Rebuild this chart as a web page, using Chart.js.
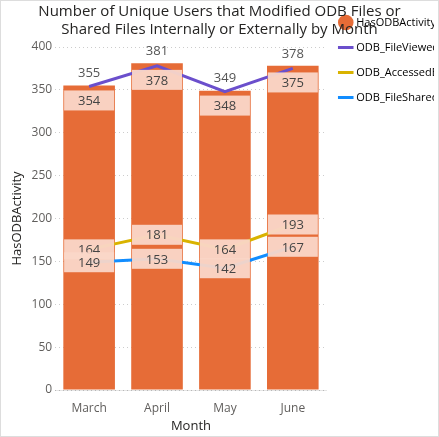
<!DOCTYPE html><html><head><script src="https://cdn.jsdelivr.net/npm/chart.js@4"></script>
<style>body{margin:0;background:#fff}#w{width:439px;height:437px;position:relative;border:1px solid #ddd;box-sizing:border-box}</style></head><body><div id="w"><canvas id="c" width="437" height="435"></canvas></div>
<script>
const months=["March","April","May","June"];
const hasODB=[355,381,349,378];
const fileViewed=[354,378,348,375];
const accessedBy=[164,181,164,193];
const fileShared=[149,153,142,167];
const legendNames=["HasODBActivity","ODB_FileViewed...","ODB_AccessedBy...","ODB_FileSharedIn..."];
const F="'Segoe UI','Open Sans',sans-serif";
const labels={id:'lbl',afterDatasetsDraw(ch){const c=ch.ctx;c.save();c.font="13px "+F;c.textAlign='center';c.textBaseline='middle';
 ch.data.datasets.forEach((ds,i)=>{const m=ch.getDatasetMeta(i);m.data.forEach((p,j)=>{let y=p.y;if(i==0)y-=12;else if(i==1)y+=14;
  if(i==0){c.fillStyle='#555';c.fillText(ds.data[j],p.x,y);return;}
  c.fillStyle='rgba(250,215,200,0.95)';c.fillRect(p.x-25,y-10,50,20);c.fillStyle='#444';c.fillText(ds.data[j],p.x,y+1);});});c.restore();}};
new Chart(document.getElementById('c'),{data:{labels:months,datasets:[
 {type:'bar',label:legendNames[0],data:hasODB,backgroundColor:'#E66C37',categoryPercentage:0.8,barPercentage:0.95,order:4},
 {type:'line',label:legendNames[1],data:fileViewed,borderColor:'#6B4FCC',borderWidth:3,pointRadius:0,order:1},
 {type:'line',label:legendNames[2],data:accessedBy,borderColor:'#D9B300',borderWidth:3,pointRadius:0,order:2},
 {type:'line',label:legendNames[3],data:fileShared,borderColor:'#118DFF',borderWidth:3,pointRadius:0,order:3}]},
 options:{responsive:false,animation:false,layout:{padding:{left:4,right:4,top:2,bottom:2}},
 plugins:{title:{display:true,text:["Number of Unique Users that Modified ODB Files or","Shared Files Internally or Externally by Month"],font:{family:F,size:15,weight:'normal'},color:'#252423',padding:{bottom:8}},
  legend:{position:'right',align:'start',labels:{font:{family:F,size:11},color:'#605E5C',usePointStyle:true,boxWidth:10,padding:14,
   generateLabels(ch){return ch.data.datasets.map((d,i)=>({text:d.label,fillStyle:d.type=='bar'?d.backgroundColor:d.borderColor,strokeStyle:d.type=='bar'?d.backgroundColor:d.borderColor,lineWidth:i?3:0,pointStyle:i?'line':'circle',datasetIndex:i}));}}},tooltip:{enabled:false}},
 scales:{x:{grid:{display:false},ticks:{font:{family:F,size:12},color:'#605E5C'},title:{display:true,text:'Month',font:{family:F,size:13},color:'#252423',padding:0}},
  y:{min:0,max:400,ticks:{stepSize:50,font:{family:F,size:12},color:'#605E5C'},grid:{color:'#ccc',drawTicks:false},border:{display:false,dash:[1,3]},title:{display:true,text:'HasODBActivity',font:{family:F,size:13},color:'#252423'}}}},
 plugins:[labels]});
</script></body></html>
